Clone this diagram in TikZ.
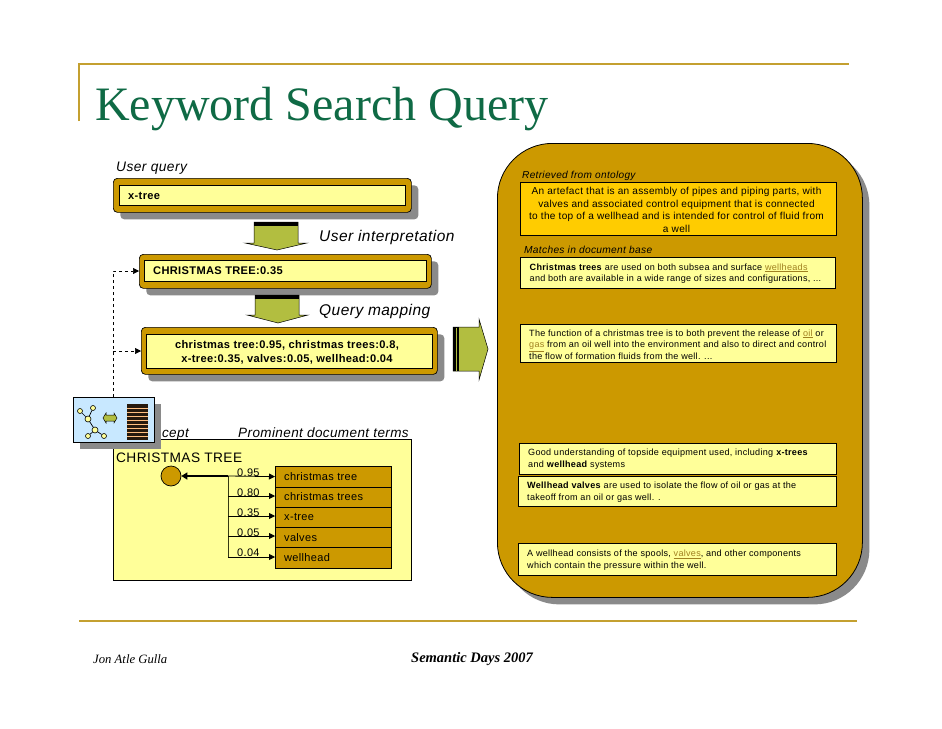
\documentclass[tikz,border=0pt]{standalone}
\usepackage{fontspec}
\setmainfont{Liberation Serif}
\newfontfamily\sfa[LetterSpace=3]{Liberation Sans}
\usetikzlibrary{arrows.meta,shadows}
\definecolor{rule}{HTML}{C4A030}
\definecolor{gold}{HTML}{CC9900}
\definecolor{pale}{HTML}{FFFF99}
\definecolor{amber}{HTML}{FFCC00}
\definecolor{olive}{HTML}{B2BE40}
\definecolor{titlegreen}{HTML}{0F6A45}
\definecolor{shade}{HTML}{8A8A8A}
\definecolor{linkc}{HTML}{A08020}
\definecolor{iceblue}{HTML}{C8E8FF}
\newcommand{\lnk}[1]{\textcolor{linkc}{\underline{#1}}}
\tikzset{
 x=1pt,y=-1pt,
 outerbox/.style={draw=black,line width=.7pt,fill=gold,rounded corners=4pt,anchor=north west,inner sep=0pt,
   general shadow={shadow xshift=7pt,shadow yshift=-7pt,fill=shade}},
 innerbox/.style={draw=black,line width=.7pt,fill=pale,anchor=north west,inner sep=0pt},
 amberbox/.style={innerbox,fill=amber},
 capt/.style={anchor=base west,inner sep=0pt,font=\sfa\itshape\fontsize{#1}{#1}\selectfont},
 bold/.style={inner sep=0pt,font=\sfa\bfseries\fontsize{11.1}{14}\selectfont,align=center},
 body/.style={anchor=west,inner sep=0pt,align=left,font=\sfa\fontsize{9.07}{11.6}\selectfont},
 rowbox/.style={draw=black,line width=.7pt,fill=gold,anchor=north west,inner sep=0pt,minimum width=116pt},
 rowtext/.style={anchor=west,inner sep=0pt,font=\sfa\fontsize{11}{12}\selectfont},
 wt/.style={anchor=base west,inner sep=0pt,font=\sfa\fontsize{11}{12}\selectfont},
 blockarrow/.style={fill=olive,draw=black,line width=.5pt},
 tip/.style={-{Triangle[length=6pt,width=6pt]}},
 branch/.style={line width=.8pt,tip},
 dashline/.style={dashed,line width=.6pt,tip},
 dotn/.style={circle,draw=black,line width=.6pt,fill=pale,inner sep=0pt,minimum size=5pt},
}
\begin{document}
\begin{tikzpicture}
\useasboundingbox (0,0) rectangle (942,728);
\fill[white] (0,0) rectangle (942,728);
% frame
\draw[rule,line width=1.6pt] (79,121) -- (79,64) -- (849,64);
\draw[rule,line width=1.6pt] (79,621) -- (857,621);
\node[anchor=base west,inner sep=0pt,text=titlegreen,font=\fontsize{48}{48}\selectfont] (title) at (95,120) {Keyword Search Query};
\node[anchor=base west,inner sep=0pt,font=\itshape\fontsize{12.7}{13}\selectfont] (author) at (93,663) {Jon Atle Gulla};
\node[anchor=base west,inner sep=0pt,font=\bfseries\itshape\fontsize{14.5}{15}\selectfont] (event) at (411,662) {Semantic Days 2007};
% left stack
\node[capt=13.8] (uq) at (116,171) {User query};
\node[outerbox,minimum width=298pt,minimum height=34pt] (o1) at (113,178) {};
\node[innerbox,minimum width=286pt,minimum height=20pt] (i1) at (119,185) {};
\node[bold,anchor=west] (t1) at (128,195.5) {x-tree};
\node[capt=15.5] (ui) at (319,241) {User interpretation};
\node[outerbox,minimum width=292pt,minimum height=34pt] (o2) at (139,254) {};
\node[innerbox,minimum width=282pt,minimum height=21pt] (i2) at (144,260) {};
\node[bold,anchor=west] (t2) at (153,271) {CHRISTMAS TREE:0.35};
\node[capt=15.5] (qm) at (319,315) {Query mapping};
\node[outerbox,minimum width=296pt,minimum height=47pt] (o3) at (141,327) {};
\node[innerbox,minimum width=286pt,minimum height=34pt] (i3) at (146,334) {};
\node[bold] (t3) at (287,352.5) {christmas tree:0.95, christmas trees:0.8,\\x-tree:0.35, valves:0.05, wellhead:0.04};
% block arrows
\draw[blockarrow] (254,222) -- (298,222) -- (298,243) -- (307,243) -- (277,250) -- (245,243) -- (254,243) -- cycle;
\fill[black] (254,222) rectangle (298,226);
\draw[blockarrow] (255,295) -- (299,295) -- (299,315) -- (308,315) -- (278,323) -- (247,315) -- (255,315) -- cycle;
\fill[black] (255,295) rectangle (299,299);
\draw[blockarrow] (453,327) -- (479,327) -- (479,319) -- (488,349) -- (479,380) -- (479,371) -- (453,371) -- cycle;
\fill[black] (453,327) rectangle (459,371);
\fill[olive] (455.5,327.5) rectangle (456.5,370.5);
% concept panel
\node[draw=black,line width=.7pt,fill=pale,anchor=north west,inner sep=0pt,minimum width=298pt,minimum height=141pt] (cp) at (113,439) {};
\node[capt=13.5,anchor=base east] (cl) at (189,437) {Concept};
\node[capt=13.5] (pd) at (238,437) {Prominent document terms};
\node[anchor=base west,inner sep=0pt,font=\sfa\fontsize{13.7}{14}\selectfont] (ct) at (116,462) {CHRISTMAS TREE};
\node[circle,draw=black,line width=.7pt,fill=gold,minimum size=20pt,inner sep=0pt] (cc) at (171,476) {};
\node[rowbox,minimum height=21.5pt] (r1) at (275,465.5) {};
\node[rowbox,minimum height=20pt] (r2) at (275,487) {};
\node[rowbox,minimum height=20pt] (r3) at (275,507) {};
\node[rowbox,minimum height=20pt] (r4) at (275,527) {};
\node[rowbox,minimum height=21pt] (r5) at (275,547) {};
\node[rowtext] at (284,476.5) {christmas tree};
\node[rowtext] at (284,497) {christmas trees};
\node[rowtext] at (284,517) {x-tree};
\node[rowtext] at (284,537.5) {valves};
\node[rowtext] at (284,557.5) {wellhead};
\coordinate (hub) at (228,476);
\draw[line width=1.6pt,-{Triangle[length=6pt,width=7pt]}] (hub) -- (cc);
\draw[line width=.8pt,black!70!olive] (hub) -- (228,557);
\draw[branch] (hub) -- (r1.west);
\draw[branch] (228,496) -- (r2.west |- 0,496);
\draw[branch] (228,516) -- (r3.west |- 0,516);
\draw[branch] (228,536) -- (r4.west |- 0,536);
\draw[branch] (228,557) -- (r5.west |- 0,557);
\node[wt] at (237,476) {0.95};
\node[wt] at (237,496) {0.80};
\node[wt] at (237,516) {0.35};
\node[wt] at (237,536) {0.05};
\node[wt] at (237,556) {0.04};
% dashed
\coordinate (d0) at (113,397);
\coordinate (d1) at (113,351);
\coordinate (d2) at (113,271);
\draw[dashline] (d0) -- (d2) -- (o2.west |- d2);
\draw[dashline] (d1) -- (o3.west |- d1);
% icon
\node[draw=black,line width=.7pt,fill=iceblue,anchor=north west,inner sep=0pt,minimum width=81pt,minimum height=45pt,
   general shadow={shadow xshift=7pt,shadow yshift=-7pt,fill=shade}] (icon) at (73,397) {};
\node[dotn] (n1) at (80,411) {};
\node[dotn] (n2) at (93,408) {};
\node[dotn,minimum size=6pt] (n3) at (88,419) {};
\node[dotn,minimum size=6pt] (n4) at (95,430) {};
\node[dotn] (n5) at (88,436) {};
\node[dotn] (n6) at (104,436) {};
\draw[line width=.7pt] (n1) -- (n3) (n2) -- (n3) (n3) -- (n4) (n4) -- (n5) (n4) -- (n6);
\draw[fill=olive,line width=.5pt] (103,418) -- (106,413) -- (106,415) -- (114,415) -- (114,413) -- (117,418) -- (114,423) -- (114,421) -- (106,421) -- (106,423) -- cycle;
\fill[black!80!brown] (127,404) rectangle (148,440);
\foreach \yy in {408,412,416,420,424,428,432,436}
  \draw[orange!50!white,line width=.6pt] (127,\yy) -- (148,\yy);
% right panel
\node[draw=black,line width=.8pt,fill=gold,rounded corners=55pt,anchor=north west,inner sep=0pt,minimum width=365pt,minimum height=454pt,
   general shadow={shadow xshift=7pt,shadow yshift=-7pt,fill=shade}] (panel) at (497,143) {};
\node[capt=10.1] (rf) at (522,178) {Retrieved from ontology};
\node[amberbox,minimum width=316pt,minimum height=52.5pt] (b0) at (520,182) {};
\node[inner sep=0pt,align=center,font=\sfa\fontsize{10.1}{12.7}\selectfont] (bt0) at (676.5,210) {An artefact that is an assembly of pipes and piping parts, with\\valves and associated control equipment that is connected\\to the top of a wellhead and is intended for control of fluid from\\a well};
\node[capt=10.2] (mf) at (524,253) {Matches in document base};
\node[innerbox,minimum width=315pt,minimum height=31.5pt] (b1) at (520,256.5) {};
\node[body] at (529.5,273.5) {\textbf{Christmas trees} are used on both subsea and surface \lnk{wellheads}\\and both are available in a wide range of sizes and configurations, ...};
\node[innerbox,minimum width=316pt,minimum height=38pt] (b2) at (520,324) {};
\node[body] at (529,344.5) {The function of a christmas tree is to both prevent the release of \lnk{oil} or\\\lnk{gas} from an oil well into the environment and also to direct and control\\the flow of formation fluids from the well. ...};
\node[innerbox,minimum width=317pt,minimum height=31pt] (b3) at (519,442.5) {};
\node[body] at (528,459) {Good understanding of topside equipment used, including \textbf{x-trees}\\and \textbf{wellhead} systems};
\node[innerbox,minimum width=318pt,minimum height=29.5pt] (b4) at (518,476) {};
\node[body] at (527,492) {\textbf{Wellhead valves} are used to isolate the flow of oil or gas at the\\takeoff from an oil or gas well. .};
\node[innerbox,minimum width=318pt,minimum height=32pt] (b5) at (518,543) {};
\node[body] at (527,560) {A wellhead consists of the spools, \lnk{valves}, and other components\\which contain the pressure within the well.};
\end{tikzpicture}
\end{document}
